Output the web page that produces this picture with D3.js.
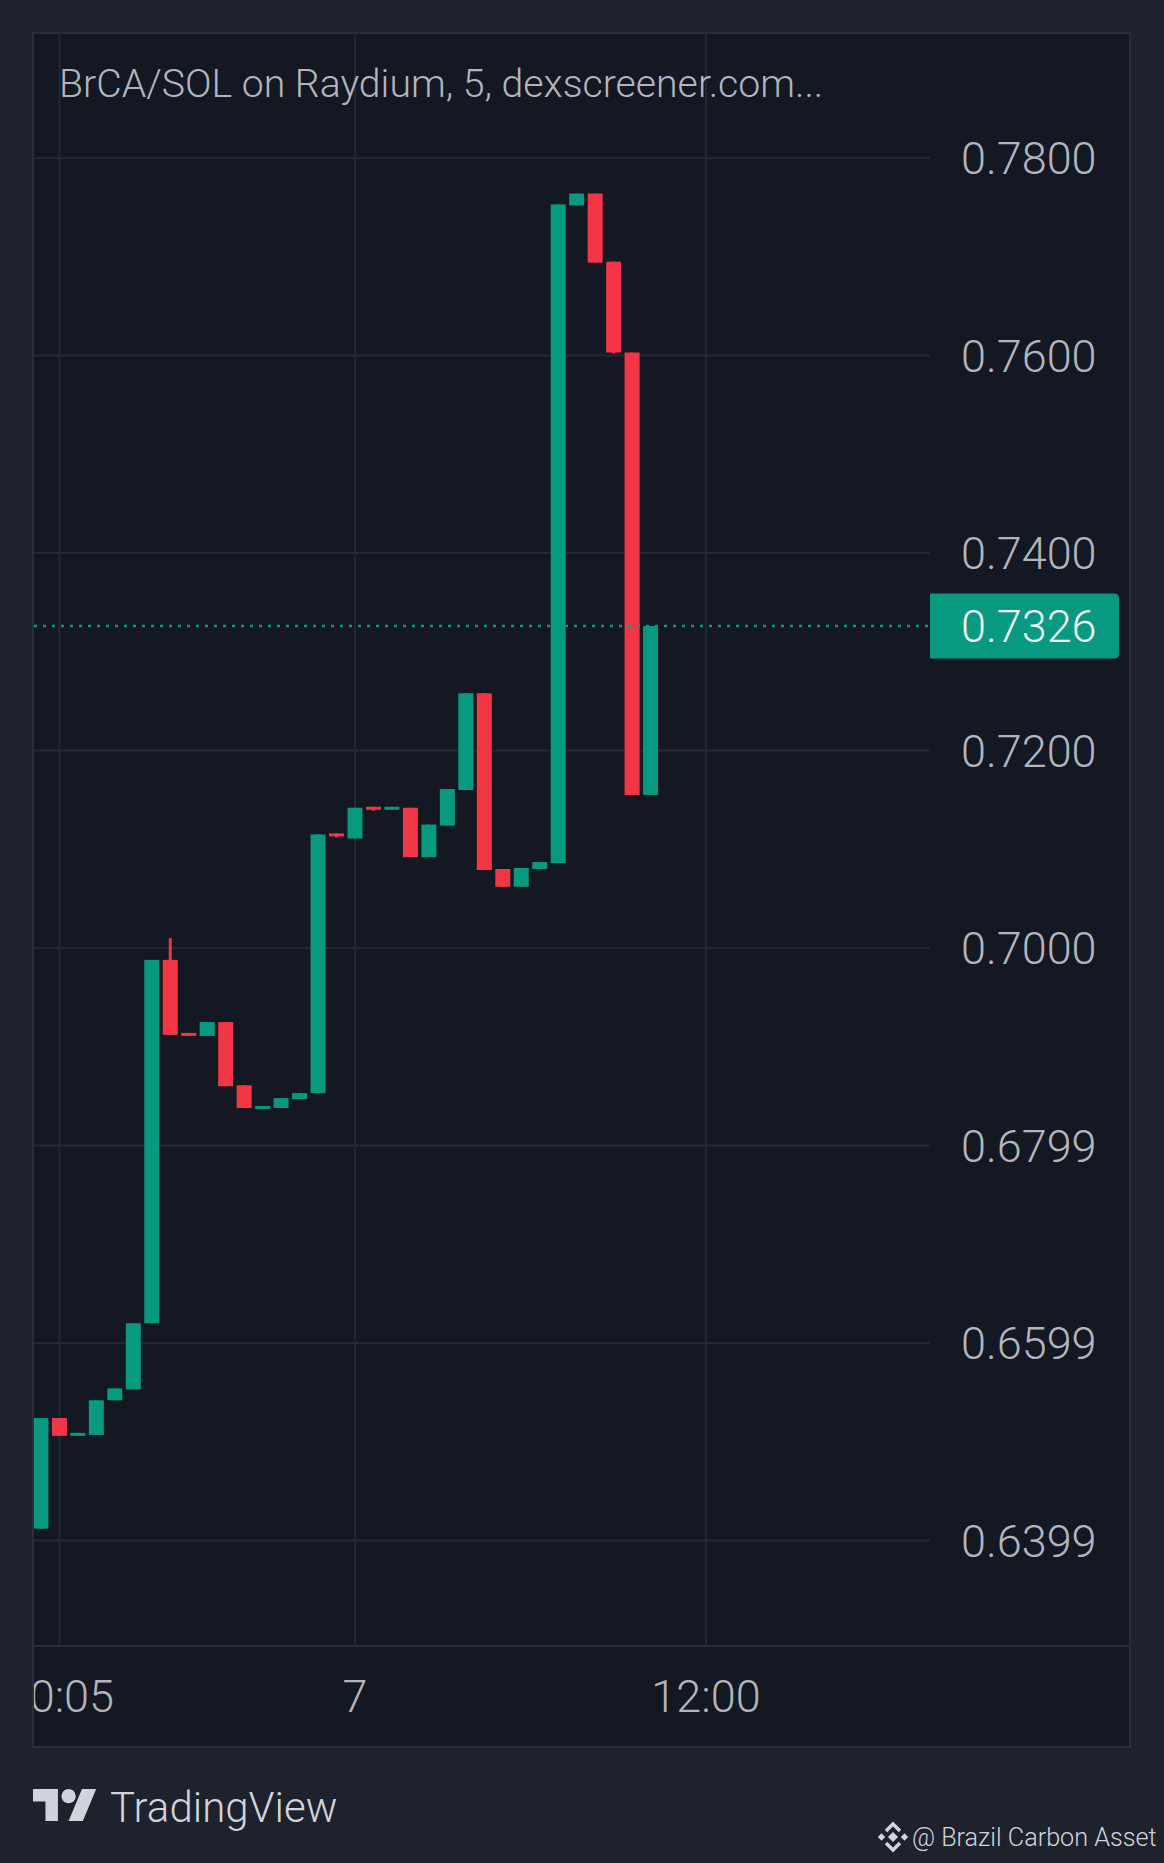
<!DOCTYPE html>
<html>
<head>
<meta charset="utf-8">
<script src="https://cdn.jsdelivr.net/npm/d3@7"></script>
<style>
  html, body { margin: 0; padding: 0; background: #1e222d; }
  svg { display: block; font-family: Roboto, "Noto Sans", sans-serif; font-weight: 300; }
</style>
</head>
<body>
<svg id="chart"></svg>
<script>
// 5 minute candles, BrCA/SOL
const opens  = [0.6412, 0.6524, 0.6506, 0.6507, 0.6542, 0.6553, 0.6620, 0.6988, 0.6914, 0.6911,
                0.6925, 0.6861, 0.6837, 0.6838, 0.6847, 0.6853, 0.7116, 0.7111, 0.7143, 0.7140,
                0.7142, 0.7092, 0.7124, 0.7160, 0.7258, 0.7080, 0.7062, 0.7080, 0.7086, 0.7752,
                0.7764, 0.7695, 0.7603, 0.7155];
const highs  = [0.6524, 0.6524, 0.6509, 0.6542, 0.6554, 0.6620, 0.6988, 0.7010, 0.6914, 0.6925,
                0.6925, 0.6861, 0.6840, 0.6848, 0.6853, 0.7115, 0.7116, 0.7142, 0.7143, 0.7143,
                0.7142, 0.7125, 0.7161, 0.7258, 0.7258, 0.7080, 0.7081, 0.7087, 0.7753, 0.7764,
                0.7764, 0.7695, 0.7603, 0.7326];
const lows   = [0.6412, 0.6506, 0.6506, 0.6507, 0.6542, 0.6553, 0.6620, 0.6912, 0.6911, 0.6911,
                0.6860, 0.6838, 0.6837, 0.6838, 0.6847, 0.6853, 0.7112, 0.7111, 0.7139, 0.7140,
                0.7092, 0.7092, 0.7124, 0.7160, 0.7079, 0.7062, 0.7062, 0.7080, 0.7086, 0.7752,
                0.7694, 0.7602, 0.7155, 0.7155];
const closes = [0.6524, 0.6506, 0.6509, 0.6542, 0.6554, 0.6620, 0.6988, 0.6912, 0.6911, 0.6925,
                0.6860, 0.6838, 0.6840, 0.6848, 0.6853, 0.7115, 0.7113, 0.7142, 0.7140, 0.7143,
                0.7092, 0.7125, 0.7161, 0.7258, 0.7079, 0.7062, 0.7081, 0.7087, 0.7753, 0.7764,
                0.7694, 0.7603, 0.7155, 0.7326];

const priceTicks = [0.64, 0.66, 0.68, 0.70, 0.72, 0.74, 0.76, 0.78];
const priceTickLabels = ["0.6399", "0.6599", "0.6799", "0.7000", "0.7200", "0.7400", "0.7600", "0.7800"];
const timeTicks = [1, 17, 36];          // bar index
const timeTickLabels = ["10:05", "7", "12:00"];
const lastPrice = 0.7326;
const title = "BrCA/SOL on Raydium, 5, dexscreener.com...";

const candles = opens.map((o, i) => ({ i: i, o: o, h: highs[i], l: lows[i], c: closes[i] }));

const W = 1164, H = 1863;
const frame = { left: 33, top: 33, right: 1130, bottom: 1747 };
const plot = { left: 34, top: 34, right: 930, bottom: 1646 };
const UP = "#089981", DOWN = "#f23645";
const GRID = "#242833", BORDER = "#2a2e39", TEXT = "#b2b5be";

const svg = d3.select("#chart").attr("width", W).attr("height", H);

svg.append("rect").attr("width", W).attr("height", H).attr("fill", "#1e222d");

// pane frame
svg.append("rect")
    .attr("x", frame.left).attr("y", frame.top)
    .attr("width", frame.right - frame.left).attr("height", frame.bottom - frame.top)
    .attr("fill", "#141823")
    .attr("stroke", BORDER).attr("stroke-width", 2);

const defs = svg.append("defs");
defs.append("clipPath").attr("id", "plotClip").append("rect")
    .attr("x", plot.left).attr("y", plot.top)
    .attr("width", plot.right - plot.left).attr("height", plot.bottom - plot.top);
defs.append("clipPath").attr("id", "timeClip").append("rect")
    .attr("x", plot.left).attr("y", plot.bottom)
    .attr("width", frame.right - plot.left - 1).attr("height", frame.bottom - plot.bottom - 1);

// scales: x by bar index, y by price
const xScale = d3.scaleLinear().domain([1, 36]).range([59.4, 706]);
const yScale = d3.scaleLinear().domain([0.64, 0.78]).range([1540.5, 158]);
const bodyW = 15;

const grid = svg.append("g").attr("clip-path", "url(#plotClip)");

grid.selectAll(".hgrid")
    .data(priceTicks)
    .join("line")
    .attr("class", "hgrid")
    .attr("x1", plot.left).attr("x2", plot.right)
    .attr("y1", d => yScale(d)).attr("y2", d => yScale(d))
    .attr("stroke", GRID).attr("stroke-width", 2);

grid.selectAll(".vgrid")
    .data(timeTicks)
    .join("line")
    .attr("class", "vgrid")
    .attr("x1", d => xScale(d)).attr("x2", d => xScale(d))
    .attr("y1", plot.top).attr("y2", plot.bottom)
    .attr("stroke", GRID).attr("stroke-width", 2);

// time axis separator
svg.append("line")
    .attr("x1", frame.left).attr("x2", frame.right)
    .attr("y1", plot.bottom).attr("y2", plot.bottom)
    .attr("stroke", BORDER).attr("stroke-width", 2);

// title legend
svg.append("text")
    .attr("x", 59).attr("y", 97)
    .attr("fill", TEXT)
    .attr("font-size", 39.2)
    .text(title);

// candles
const candleG = svg.append("g").attr("clip-path", "url(#plotClip)");

candleG.selectAll(".wick")
    .data(candles)
    .join("rect")
    .attr("class", "wick")
    .attr("x", d => xScale(d.i) - 1.5)
    .attr("width", 3)
    .attr("y", d => yScale(d.h))
    .attr("height", d => Math.max(1, yScale(d.l) - yScale(d.h)))
    .attr("fill", d => d.c >= d.o ? UP : DOWN);

candleG.selectAll(".body")
    .data(candles)
    .join("rect")
    .attr("class", "body")
    .attr("x", d => xScale(d.i) - bodyW / 2)
    .attr("width", bodyW)
    .attr("y", d => yScale(Math.max(d.o, d.c)))
    .attr("height", d => Math.max(2, yScale(Math.min(d.o, d.c)) - yScale(Math.max(d.o, d.c))))
    .attr("fill", d => d.c >= d.o ? UP : DOWN);

// last price line
svg.append("line")
    .attr("x1", plot.left).attr("x2", plot.right)
    .attr("y1", yScale(lastPrice)).attr("y2", yScale(lastPrice))
    .attr("stroke", UP).attr("stroke-width", 2.5)
    .attr("stroke-dasharray", "3,6");

// price axis labels
svg.append("g").selectAll("text")
    .data(priceTicks)
    .join("text")
    .attr("x", 961)
    .attr("y", d => yScale(d))
    .attr("dy", "0.36em")
    .attr("fill", TEXT)
    .attr("font-size", 45)
    .text((d, i) => priceTickLabels[i]);

// last price badge
const ly = yScale(lastPrice);
svg.append("path")
    .attr("d", `M930,${ly - 32.5} H1114 Q1119,${ly - 32.5} 1119,${ly - 27.5} V${ly + 27.5} Q1119,${ly + 32.5} 1114,${ly + 32.5} H930 Z`)
    .attr("fill", UP);
svg.append("text")
    .attr("x", 961).attr("y", ly)
    .attr("dy", "0.36em")
    .attr("fill", "#eef2f1")
    .attr("font-size", 45)
    .text(lastPrice.toFixed(4));

// time axis labels
svg.append("g").attr("clip-path", "url(#timeClip)")
    .selectAll("text")
    .data(timeTicks)
    .join("text")
    .attr("x", d => xScale(d))
    .attr("y", 1711.5)
    .attr("text-anchor", "middle")
    .attr("fill", TEXT)
    .attr("font-size", 45)
    .text((d, i) => timeTickLabels[i]);

// TradingView logo
const logo = svg.append("g")
    .attr("transform", "translate(33,1781.9) scale(1.78)")
    .attr("fill", "#d1d4dc");
logo.append("path").attr("d", "M14 22H7V11H0V4h14v18zM28 22h-8l7.5-18h8L28 22z");
logo.append("circle").attr("cx", 20).attr("cy", 8).attr("r", 4);

svg.append("text")
    .attr("x", 110).attr("y", 1821.5)
    .attr("fill", "#d1d4dc")
    .attr("font-size", 42)
    .text("TradingView");

// author credit with small diamond mark
const mark = svg.append("g").attr("transform", "translate(893,1837)").attr("fill", "#d1d4dc");
[[0, 0, 3.6], [-11.5, 0, 2.6], [11.5, 0, 2.6]].forEach(p => {
    mark.append("rect")
        .attr("x", -p[2]).attr("y", -p[2])
        .attr("width", p[2] * 2).attr("height", p[2] * 2)
        .attr("transform", `translate(${p[0]},${p[1]}) rotate(45)`);
});
mark.append("path").attr("d", "M-7,-6 L0,-13 L7,-6").attr("fill", "none").attr("stroke", "#d1d4dc").attr("stroke-width", 3.5);
mark.append("path").attr("d", "M-7,6 L0,13 L7,6").attr("fill", "none").attr("stroke", "#d1d4dc").attr("stroke-width", 3.5);

svg.append("text")
    .attr("x", 912).attr("y", 1846)
    .attr("fill", "#d1d4dc")
    .attr("font-size", 25.2)
    .text("@ Brazil Carbon Asset");
</script>
</body>
</html>
